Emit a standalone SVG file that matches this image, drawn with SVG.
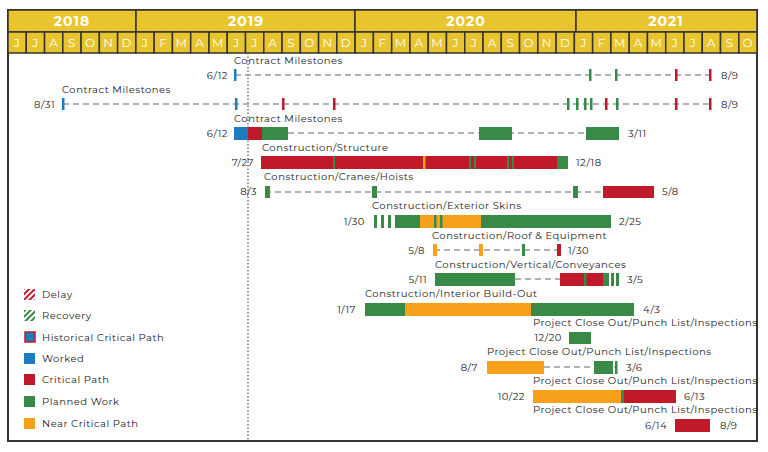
<svg xmlns="http://www.w3.org/2000/svg" width="768" height="452" viewBox="0 0 768 452">
<defs>
<style>
text{font-family:"Montserrat","Open Sans","Liberation Sans",sans-serif;font-size:10px;fill:#222;letter-spacing:0.5px}
.yr{font-size:14px;fill:#fff;font-weight:bold;text-anchor:middle;letter-spacing:1px}
.mo{font-size:12px;fill:#fff;text-anchor:middle}
.hdr{fill:#E8C42F;stroke:#333;stroke-width:1.5}
.r{text-anchor:end}
.dash{stroke:#999;stroke-width:1.5;stroke-dasharray:6,4;fill:none}
.g{fill:#3A8A47}.rd{fill:#C0192A}.b{fill:#1E7BC0}.o{fill:#F7A01C}
.tk{stroke-width:2}
</style>
<pattern id="pr" width="4" height="4" patternUnits="userSpaceOnUse" patternTransform="rotate(45)"><rect width="2" height="4" fill="#C0192A"/></pattern>
<pattern id="pg" width="4" height="4" patternUnits="userSpaceOnUse" patternTransform="rotate(45)"><rect width="2" height="4" fill="#3A8A47"/></pattern>
</defs>
<rect x="0" y="0" width="768" height="452" fill="#fff"/>
<rect x="8" y="10" width="749" height="431" fill="#fff" stroke="#333" stroke-width="2"/>
<g id="header">
<rect class="hdr" x="8" y="10" width="128" height="22"/>
<rect class="hdr" x="136" y="10" width="219" height="22"/>
<rect class="hdr" x="355" y="10" width="221" height="22"/>
<rect class="hdr" x="576" y="10" width="181" height="22"/>
<text class="yr" x="72" y="26">2018</text>
<text class="yr" x="246" y="26">2019</text>
<text class="yr" x="466" y="26">2020</text>
<text class="yr" x="666" y="26">2021</text>
<g id="months">
<rect class="hdr" x="8" y="32" width="18.27" height="21"/><rect class="hdr" x="26.27" y="32" width="18.27" height="21"/><rect class="hdr" x="44.54" y="32" width="18.27" height="21"/><rect class="hdr" x="62.81" y="32" width="18.27" height="21"/><rect class="hdr" x="81.08" y="32" width="18.27" height="21"/><rect class="hdr" x="99.35" y="32" width="18.27" height="21"/><rect class="hdr" x="117.62" y="32" width="18.27" height="21"/><rect class="hdr" x="135.89" y="32" width="18.27" height="21"/><rect class="hdr" x="154.16" y="32" width="18.27" height="21"/><rect class="hdr" x="172.43" y="32" width="18.27" height="21"/><rect class="hdr" x="190.7" y="32" width="18.27" height="21"/><rect class="hdr" x="208.97" y="32" width="18.27" height="21"/><rect class="hdr" x="227.24" y="32" width="18.27" height="21"/><rect class="hdr" x="245.51" y="32" width="18.27" height="21"/><rect class="hdr" x="263.78" y="32" width="18.27" height="21"/><rect class="hdr" x="282.05" y="32" width="18.27" height="21"/><rect class="hdr" x="300.32" y="32" width="18.27" height="21"/><rect class="hdr" x="318.59" y="32" width="18.27" height="21"/><rect class="hdr" x="336.86" y="32" width="18.27" height="21"/><rect class="hdr" x="355.13" y="32" width="18.27" height="21"/><rect class="hdr" x="373.4" y="32" width="18.27" height="21"/><rect class="hdr" x="391.67" y="32" width="18.27" height="21"/><rect class="hdr" x="409.94" y="32" width="18.27" height="21"/><rect class="hdr" x="428.21" y="32" width="18.27" height="21"/><rect class="hdr" x="446.48" y="32" width="18.27" height="21"/><rect class="hdr" x="464.75" y="32" width="18.27" height="21"/><rect class="hdr" x="483.02" y="32" width="18.27" height="21"/><rect class="hdr" x="501.29" y="32" width="18.27" height="21"/><rect class="hdr" x="519.56" y="32" width="18.27" height="21"/><rect class="hdr" x="537.83" y="32" width="18.27" height="21"/><rect class="hdr" x="556.1" y="32" width="18.27" height="21"/><rect class="hdr" x="574.37" y="32" width="18.27" height="21"/><rect class="hdr" x="592.64" y="32" width="18.27" height="21"/><rect class="hdr" x="610.91" y="32" width="18.27" height="21"/><rect class="hdr" x="629.18" y="32" width="18.27" height="21"/><rect class="hdr" x="647.45" y="32" width="18.27" height="21"/><rect class="hdr" x="665.72" y="32" width="18.27" height="21"/><rect class="hdr" x="683.99" y="32" width="18.27" height="21"/><rect class="hdr" x="702.26" y="32" width="18.27" height="21"/><rect class="hdr" x="720.53" y="32" width="18.27" height="21"/><rect class="hdr" x="738.8" y="32" width="18.2" height="21"/>
<text class="mo" x="17.1" y="47">J</text><text class="mo" x="35.4" y="47">J</text><text class="mo" x="53.7" y="47">A</text><text class="mo" x="71.9" y="47">S</text><text class="mo" x="90.2" y="47">O</text><text class="mo" x="108.5" y="47">N</text><text class="mo" x="126.8" y="47">D</text><text class="mo" x="145" y="47">J</text><text class="mo" x="163.3" y="47">F</text><text class="mo" x="181.6" y="47">M</text><text class="mo" x="199.8" y="47">A</text><text class="mo" x="218.1" y="47">M</text><text class="mo" x="236.4" y="47">J</text><text class="mo" x="254.6" y="47">J</text><text class="mo" x="272.9" y="47">A</text><text class="mo" x="291.2" y="47">S</text><text class="mo" x="309.5" y="47">O</text><text class="mo" x="327.7" y="47">N</text><text class="mo" x="346" y="47">D</text><text class="mo" x="364.3" y="47">J</text><text class="mo" x="382.5" y="47">F</text><text class="mo" x="400.8" y="47">M</text><text class="mo" x="419.1" y="47">A</text><text class="mo" x="437.3" y="47">M</text><text class="mo" x="455.6" y="47">J</text><text class="mo" x="473.9" y="47">J</text><text class="mo" x="492.2" y="47">A</text><text class="mo" x="510.4" y="47">S</text><text class="mo" x="528.7" y="47">O</text><text class="mo" x="547" y="47">N</text><text class="mo" x="565.2" y="47">D</text><text class="mo" x="583.5" y="47">J</text><text class="mo" x="601.8" y="47">F</text><text class="mo" x="620" y="47">M</text><text class="mo" x="638.3" y="47">A</text><text class="mo" x="656.6" y="47">M</text><text class="mo" x="674.9" y="47">J</text><text class="mo" x="693.1" y="47">J</text><text class="mo" x="711.4" y="47">A</text><text class="mo" x="729.7" y="47">S</text><text class="mo" x="747.9" y="47">O</text>
</g>
</g>
<line x1="248" y1="53" x2="248" y2="440" stroke="#555" stroke-width="1.2" stroke-dasharray="1.5,2"/>
<g id="connectors">
<line class="dash" x1="235" y1="75" x2="710" y2="75"/>
<line class="dash" x1="63" y1="104" x2="710" y2="104"/>
<line class="dash" x1="288" y1="133" x2="586" y2="133"/>
<line class="dash" x1="265" y1="192" x2="603" y2="192"/>
<line class="dash" x1="434" y1="250" x2="558" y2="250"/>
<line class="dash" x1="515" y1="279" x2="560" y2="279"/>
<line class="dash" x1="544" y1="367" x2="617" y2="367"/>
</g>
<g id="row1">
<text x="234" y="64">Contract Milestones</text>
<text class="r" x="228" y="79">6/12</text>
<rect class="b" x="234" y="69" width="2.5" height="12"/>
<rect class="g" x="589" y="69" width="2.5" height="12"/><rect class="g" x="615" y="69" width="2.5" height="12"/>
<rect class="rd" x="675" y="69" width="2.5" height="12"/><rect class="rd" x="709" y="69" width="2.5" height="12"/>
<text x="721" y="79">8/9</text>
</g>
<g id="row2">
<text x="62" y="93">Contract Milestones</text>
<text class="r" x="55" y="108">8/31</text>
<rect class="b" x="62" y="98" width="2.5" height="12"/><rect class="b" x="235" y="98" width="2.5" height="12"/>
<rect class="rd" x="282" y="98" width="2.5" height="12"/><rect class="rd" x="333" y="98" width="2.5" height="12"/>
<rect class="g" x="567" y="98" width="2.5" height="12"/><rect class="g" x="576" y="98" width="2.5" height="12"/><rect class="g" x="584" y="98" width="2.5" height="12"/><rect class="g" x="590" y="98" width="2.5" height="12"/>
<rect class="rd" x="605" y="98" width="2.5" height="12"/><rect class="g" x="616" y="98" width="2.5" height="12"/>
<rect class="rd" x="675" y="98" width="2.5" height="12"/><rect class="rd" x="709" y="98" width="2.5" height="12"/>
<text x="721" y="108">8/9</text>
</g>
<g id="row3">
<text x="234" y="122">Contract Milestones</text>
<text class="r" x="228" y="137">6/12</text>
<rect class="b" x="234" y="127" width="14" height="13"/><rect class="rd" x="248" y="127" width="14" height="13"/><rect class="g" x="262" y="127" width="26" height="13"/>
<rect class="g" x="479" y="127" width="33" height="13"/><rect class="g" x="586" y="127" width="33" height="13"/>
<text x="628" y="137">3/11</text>
</g>
<g id="row4">
<text x="262" y="151">Construction/Structure</text>
<text class="r" x="254" y="166">7/27</text>
<rect class="rd" x="261" y="156" width="296" height="13"/>
<rect class="g" x="333" y="156" width="2" height="13"/><rect class="o" x="423" y="156" width="2.5" height="13"/>
<rect class="g" x="469" y="156" width="2" height="13"/><rect class="g" x="474" y="156" width="2" height="13"/><rect class="g" x="507" y="156" width="2" height="13"/><rect class="g" x="512" y="156" width="2" height="13"/>
<rect class="g" x="557" y="156" width="11" height="13"/>
<text x="576" y="166">12/18</text>
</g>
<g id="row5">
<text x="264" y="180">Construction/Cranes/Hoists</text>
<text class="r" x="257" y="195">8/3</text>
<rect class="g" x="265" y="186" width="5" height="12"/><rect class="g" x="372" y="186" width="5" height="12"/><rect class="g" x="573" y="186" width="5" height="12"/>
<rect class="rd" x="603" y="186" width="51" height="12"/>
<text x="662" y="195">5/8</text>
</g>
<g id="row6">
<text x="372" y="209">Construction/Exterior Skins</text>
<text class="r" x="365" y="225">1/30</text>
<rect class="g" x="374" y="215" width="3" height="13"/><rect class="g" x="381" y="215" width="3" height="13"/><rect class="g" x="388" y="215" width="3" height="13"/>
<rect class="g" x="395" y="215" width="25" height="13"/><rect class="o" x="420" y="215" width="61" height="13"/>
<rect class="g" x="434" y="215" width="2.5" height="13"/><rect class="g" x="440" y="215" width="2.5" height="13"/>
<rect class="g" x="481" y="215" width="130" height="13"/>
<text x="619" y="225">2/25</text>
</g>
<g id="row7">
<text x="432" y="239">Construction/Roof &amp; Equipment</text>
<text class="r" x="425" y="254">5/8</text>
<rect class="o" x="433" y="244" width="4" height="12"/><rect class="o" x="479" y="244" width="4" height="12"/>
<rect class="g" x="522" y="244" width="3" height="12"/><rect class="rd" x="557" y="244" width="4" height="12"/>
<text x="568" y="254">1/30</text>
</g>
<g id="row8">
<text x="435" y="268">Construction/Vertical/Conveyances</text>
<text class="r" x="427" y="283">5/11</text>
<rect class="g" x="435" y="273" width="80" height="13"/>
<rect class="rd" x="560" y="273" width="43" height="13"/><rect class="g" x="584" y="273" width="2.5" height="13"/>
<rect class="g" x="603" y="273" width="6" height="13"/><rect class="g" x="611" y="273" width="3" height="13"/><rect class="g" x="616" y="273" width="3" height="13"/>
<text x="627" y="283">3/5</text>
</g>
<g id="row9">
<text x="365" y="297">Construction/Interior Build-Out</text>
<text class="r" x="356" y="313">1/17</text>
<rect class="g" x="365" y="303" width="40" height="13"/><rect class="o" x="405" y="303" width="126" height="13"/><rect class="g" x="531" y="303" width="103" height="13"/>
<text x="643" y="313">4/3</text>
</g>
<g id="row10">
<text x="533" y="326">Project Close Out/Punch List/Inspections</text>
<text class="r" x="562" y="341">12/20</text>
<rect class="g" x="569" y="332" width="22" height="12"/>
</g>
<g id="row11">
<text x="487" y="355">Project Close Out/Punch List/Inspections</text>
<text class="r" x="478" y="371">8/7</text>
<rect class="o" x="487" y="361" width="57" height="13"/>
<rect class="g" x="594" y="361" width="19" height="13"/><rect class="g" x="615" y="361" width="2.5" height="13"/>
<text x="626" y="371">3/6</text>
</g>
<g id="row12">
<text x="533" y="384">Project Close Out/Punch List/Inspections</text>
<text class="r" x="525" y="400">10/22</text>
<rect class="o" x="533" y="390" width="88" height="13"/><rect class="g" x="621" y="390" width="3" height="13"/><rect class="rd" x="624" y="390" width="52" height="13"/>
<text x="684" y="400">6/13</text>
</g>
<g id="row13">
<text x="533" y="413">Project Close Out/Punch List/Inspections</text>
<text class="r" x="667" y="429">6/14</text>
<rect class="rd" x="675" y="419" width="35" height="13"/>
<text x="720" y="429">8/9</text>
</g>
<g id="legend">
<rect x="24" y="289" width="11" height="11" fill="url(#pr)"/><text x="42" y="298">Delay</text>
<rect x="24" y="310" width="11" height="11" fill="url(#pg)"/><text x="42" y="319">Recovery</text>
<rect x="25" y="332" width="10" height="10" class="b" stroke="#C0192A" stroke-width="1.5"/><text x="42" y="341">Historical Critical Path</text>
<rect x="24" y="353" width="11" height="11" class="b"/><text x="42" y="362">Worked</text>
<rect x="24" y="374" width="11" height="11" class="rd"/><text x="42" y="383">Critical Path</text>
<rect x="24" y="396" width="11" height="11" class="g"/><text x="42" y="405">Planned Work</text>
<rect x="24" y="418" width="11" height="11" class="o"/><text x="42" y="427">Near Critical Path</text>
</g>
</svg>
